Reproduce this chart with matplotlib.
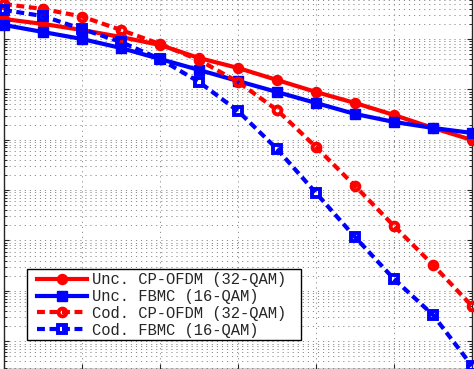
import numpy as np
import matplotlib
matplotlib.use("Agg")
import matplotlib.pyplot as plt
from matplotlib.ticker import LogLocator, MultipleLocator, NullFormatter
from matplotlib.lines import Line2D
from matplotlib.legend_handler import HandlerLine2D
from matplotlib.patches import Rectangle

# Data (SNR in dB, BER values)
snr = [0, 2.5, 5, 7.5, 10, 12.5, 15, 17.5, 20, 22.5, 25, 27.5, 30]
unc_ofdm = [0.248, 0.198, 0.150, 0.109, 0.0757, 0.0418, 0.0265, 0.0153,
            0.00884, 0.00535, 0.00309, 0.00171, 0.000986]
unc_fbmc = [0.189, 0.137, 0.0995, 0.0660, 0.0399, 0.0242, 0.0146, 0.00884,
            0.00535, 0.00324, 0.00225, 0.00171, 0.00136]
cod_ofdm = [0.492, 0.392, 0.278, 0.150, 0.0792, 0.0381, 0.0140, 0.00388,
            0.000716, 0.000121, 1.94e-5, 3.27e-6, 5.01e-7]
cod_fbmc = [0.374, 0.284, 0.157, 0.0868, 0.0399, 0.0140, 0.00371, 0.000654,
            8.76e-5, 1.17e-5, 1.72e-6, 3.33e-7, 3.24e-8]
labels = ["Unc. CP-OFDM (32-QAM)", "Unc. FBMC (16-QAM)",
          "Cod. CP-OFDM (32-QAM)", "Cod. FBMC (16-QAM)"]

W, H = 474, 369
fig = plt.figure(figsize=(W / 100, H / 100), dpi=100)
left_px, right_px = 4, 472
top_px, bot_px = -11.5, 369
ax = fig.add_axes([left_px / W, 1 - bot_px / H,
                   (right_px - left_px) / W, (bot_px - top_px) / H])

red, blue = "#ff0000", "#0000ff"
dash = (0, (1.9, 1.1))
lw = 3.0
l1, = ax.semilogy(snr, unc_ofdm, color=red, lw=lw, marker="o", ms=7.2,
                  mfc=red, mec=red, clip_on=False, zorder=3)
l2, = ax.semilogy(snr, unc_fbmc, color=blue, lw=lw, marker="s", ms=6.5,
                  mfc=blue, mec=blue, clip_on=False, zorder=3)
l3, = ax.semilogy(snr, cod_ofdm, color=red, lw=lw, ls=dash, marker="o",
                  ms=5.6, mew=2.8, mfc="none", mec=red, clip_on=False, zorder=3)
l4, = ax.semilogy(snr, cod_fbmc, color=blue, lw=lw, ls=dash, marker="s",
                  ms=5.2, mew=2.8, mfc="none", mec=blue, clip_on=False, zorder=3)

ax.set_xlim(0, 30)
ax.set_ylim(10 ** (-7.55), 1)
ax.xaxis.set_major_locator(MultipleLocator(5))
ax.yaxis.set_major_locator(LogLocator(base=10, numticks=20))
ax.yaxis.set_minor_locator(LogLocator(base=10, subs=np.arange(2, 10), numticks=20))
ax.xaxis.set_major_formatter(NullFormatter())
ax.yaxis.set_major_formatter(NullFormatter())
ax.yaxis.set_minor_formatter(NullFormatter())

spine_c = "#262626"
for s in ax.spines.values():
    s.set_color(spine_c)
    s.set_linewidth(1.0)
ax.tick_params(which="both", direction="in", top=True, right=True,
               color=spine_c, labelleft=False, labelbottom=False)
ax.tick_params(which="major", length=3.6, width=0.8)
ax.tick_params(which="minor", length=2.0, width=0.7)

gstyle = dict(ls=(0, (1.2, 4.0)), color="#8c8c8c", lw=0.7)
ax.grid(True, which="major", **gstyle)
ax.grid(True, which="minor", axis="y", **gstyle)
ax.set_axisbelow(True)

# legend frame (MATLAB style, extra right padding)
bx0, by0, bx1, by1 = 27, 269, 301, 340
frame = Rectangle((bx0 / W, 1 - by1 / H), (bx1 - bx0) / W, (by1 - by0) / H,
                  transform=fig.transFigure, facecolor="white",
                  edgecolor="black", lw=1.0, zorder=2)
fig.patches.append(frame)

fs = 11.2
leg = fig.legend([l1, l2, l3, l4], labels, loc="upper left",
                 bbox_to_anchor=(bx0 / W, 1 - by0 / H), borderaxespad=0,
                 prop={"family": "Liberation Mono", "size": fs},
                 handlelength=3.65, handletextpad=0.32, borderpad=0.2,
                 labelspacing=0.12, numpoints=1, frameon=False,
                 handler_map={Line2D: HandlerLine2D(xpad=0.45)})
leg.set_zorder(5)
for t in leg.get_texts():
    t.set_color("#262626")

fig.savefig("out.png", dpi=100)
